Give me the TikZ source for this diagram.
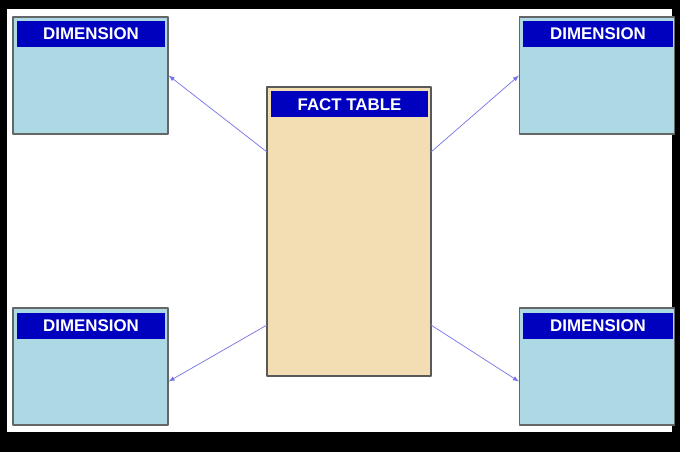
\documentclass[tikz,border=0pt]{standalone}
\usepackage{fontspec}
\setmainfont{Liberation Sans}
\definecolor{dimblue}{rgb}{0.68,0.85,0.9}
\definecolor{factbeige}{rgb}{0.95,0.87,0.7}
\definecolor{headblue}{rgb}{0,0,0.75}
\definecolor{arrowblue}{rgb}{0.45,0.45,0.9}
\tikzset{
  dimbox/.style={draw=gray!80!black,fill=dimblue,line width=0.8pt,minimum width=155*0.025cm,minimum height=117*0.025cm,inner sep=0pt},
  factbox/.style={draw=gray!70!black,fill=factbeige,line width=0.8pt,minimum width=164*0.025cm,minimum height=289*0.025cm,inner sep=0pt},
  headbox/.style={fill=headblue,text=white,font=\bfseries\fontsize{12}{12}\selectfont,inner sep=0pt,minimum height=26*0.025cm},
  link/.style={draw=arrowblue,line width=0.5pt,-latex}
}
\begin{document}
\begin{tikzpicture}[line cap=round,line join=round,x=0.025cm,y=-0.025cm]
		\fill [black] (0,0) rectangle (680,452);
		\fill [white] (7,9) rectangle (672,432);
		% dimension tables
		\node [dimbox] (dimtl) at (90.5,75.5) {};
		\node [dimbox] (dimtr) at (597,75.5) {};
		\node [dimbox] (dimbl) at (90.5,366.5) {};
		\node [dimbox] (dimbr) at (597,366.5) {};
		\node [headbox,minimum width=148*0.025cm] (headtl) at (91,34) {DIMENSION};
		\node [headbox,minimum width=150*0.025cm] (headtr) at (598,34) {DIMENSION};
		\node [headbox,minimum width=148*0.025cm] (headbl) at (91,326) {DIMENSION};
		\node [headbox,minimum width=150*0.025cm] (headbr) at (598,326) {DIMENSION};
		% fact table
		\node [factbox] (fact) at (349,231.5) {};
		\node [headbox,minimum width=157*0.025cm] (headfact) at (349.5,104.5) {FACT TABLE};
		\coordinate (ftl) at (267,152);
		\coordinate (ftr) at (431,152);
		\coordinate (fbl) at (267,325);
		\coordinate (fbr) at (431,325);
		\draw [link] (ftl) -- (dimtl.east);
		\draw [link] (ftr) -- (dimtr.west);
		\draw [link] (fbl) -- ([yshift=-15*0.025cm]dimbl.east);
		\draw [link] (fbr) -- ([yshift=-15*0.025cm]dimbr.west);
\end{tikzpicture}
\end{document}
